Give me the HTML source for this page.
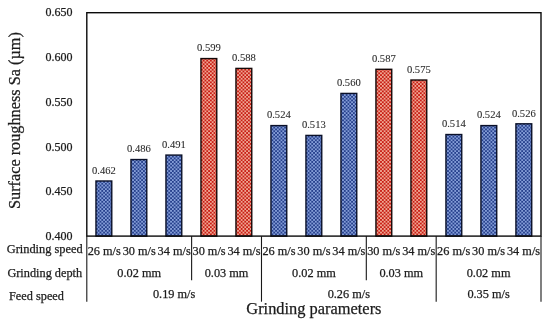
<!DOCTYPE html>
<html><head><meta charset="utf-8"><title>Grinding parameters chart</title>
<style>
html,body{margin:0;padding:0;background:#fff;overflow:hidden;}
svg{display:block;font-family:"Liberation Serif","Times New Roman",serif;fill:#1c1c1c;}
text{stroke:#1c1c1c;stroke-width:0.25px;}
.t{font-size:12px;text-anchor:end;}
.v{font-size:10.6px;text-anchor:middle;stroke-width:0.08px;fill:#2a2a2a;stroke:#2a2a2a;}
.c{font-size:12.3px;text-anchor:middle;}
.r{font-size:12.3px;text-anchor:start;}
.x{font-size:16.4px;text-anchor:middle;}
.y{font-size:16.25px;text-anchor:middle;}
.ln{stroke:#181818;stroke-width:1.1;fill:none;}
</style></head><body>
<svg width="550" height="321" viewBox="0 0 550 321">
<defs>
<pattern id="pb" width="3.62" height="3.62" patternUnits="userSpaceOnUse">
<rect width="3.62" height="3.62" fill="#26408c"/>
<circle cx="0.905" cy="0.905" r="0.88" fill="#a8c0f4"/>
<circle cx="2.715" cy="2.715" r="0.88" fill="#a8c0f4"/>
</pattern>
<pattern id="pr" width="3.62" height="3.62" patternUnits="userSpaceOnUse">
<rect width="3.62" height="3.62" fill="#c81e14"/>
<circle cx="0.905" cy="0.905" r="0.88" fill="#fed8c2"/>
<circle cx="2.715" cy="2.715" r="0.88" fill="#fed8c2"/>
</pattern>
</defs>
<rect width="550" height="321" fill="#fff"/>
<rect x="95.97" y="181.00" width="15.80" height="55.10" fill="url(#pb)" stroke="#0a1028" stroke-width="1.4"/>
<text class="v" x="103.87" y="173.70">0.462</text>
<rect x="130.97" y="159.55" width="15.80" height="76.55" fill="url(#pb)" stroke="#0a1028" stroke-width="1.4"/>
<text class="v" x="138.87" y="152.25">0.486</text>
<rect x="165.96" y="155.08" width="15.80" height="81.02" fill="url(#pb)" stroke="#0a1028" stroke-width="1.4"/>
<text class="v" x="173.86" y="147.78">0.491</text>
<rect x="200.96" y="58.57" width="15.80" height="177.53" fill="url(#pr)" stroke="#140808" stroke-width="1.4"/>
<text class="v" x="208.86" y="51.27">0.599</text>
<rect x="235.96" y="68.40" width="15.80" height="167.70" fill="url(#pr)" stroke="#140808" stroke-width="1.4"/>
<text class="v" x="243.86" y="61.10">0.588</text>
<rect x="270.95" y="125.59" width="15.80" height="110.51" fill="url(#pb)" stroke="#0a1028" stroke-width="1.4"/>
<text class="v" x="278.85" y="118.29">0.524</text>
<rect x="305.95" y="135.42" width="15.80" height="100.68" fill="url(#pb)" stroke="#0a1028" stroke-width="1.4"/>
<text class="v" x="313.85" y="128.12">0.513</text>
<rect x="340.95" y="93.42" width="15.80" height="142.68" fill="url(#pb)" stroke="#0a1028" stroke-width="1.4"/>
<text class="v" x="348.85" y="86.12">0.560</text>
<rect x="375.94" y="69.30" width="15.80" height="166.80" fill="url(#pr)" stroke="#140808" stroke-width="1.4"/>
<text class="v" x="383.84" y="62.00">0.587</text>
<rect x="410.94" y="80.02" width="15.80" height="156.08" fill="url(#pr)" stroke="#140808" stroke-width="1.4"/>
<text class="v" x="418.84" y="72.72">0.575</text>
<rect x="445.94" y="134.53" width="15.80" height="101.57" fill="url(#pb)" stroke="#0a1028" stroke-width="1.4"/>
<text class="v" x="453.84" y="127.23">0.514</text>
<rect x="480.93" y="125.59" width="15.80" height="110.51" fill="url(#pb)" stroke="#0a1028" stroke-width="1.4"/>
<text class="v" x="488.83" y="118.29">0.524</text>
<rect x="515.93" y="123.81" width="15.80" height="112.29" fill="url(#pb)" stroke="#0a1028" stroke-width="1.4"/>
<text class="v" x="523.83" y="116.51">0.526</text>
<rect x="86.8" y="12.7" width="454.20" height="223.40" fill="none" stroke="#0a0a0a" stroke-width="1.4"/>
<text class="t" x="72.6" y="240.00">0.400</text>
<text class="t" x="72.6" y="195.26">0.450</text>
<text class="t" x="72.6" y="150.52">0.500</text>
<text class="t" x="72.6" y="105.78">0.550</text>
<text class="t" x="72.6" y="61.04">0.600</text>
<text class="t" x="72.6" y="16.30">0.650</text>
<line class="ln" x1="86.80" y1="236.1" x2="86.80" y2="301.7"/>
<line class="ln" x1="191.62" y1="236.1" x2="191.62" y2="280.2"/>
<line class="ln" x1="261.49" y1="236.1" x2="261.49" y2="301.7"/>
<line class="ln" x1="366.31" y1="236.1" x2="366.31" y2="280.2"/>
<line class="ln" x1="436.18" y1="236.1" x2="436.18" y2="301.7"/>
<line class="ln" x1="541.00" y1="236.1" x2="541.00" y2="301.7"/>
<text class="c" x="104.27" y="255.1">26 m/s</text>
<text class="c" x="139.21" y="255.1">30 m/s</text>
<text class="c" x="174.15" y="255.1">34 m/s</text>
<text class="c" x="209.08" y="255.1">30 m/s</text>
<text class="c" x="244.02" y="255.1">34 m/s</text>
<text class="c" x="278.96" y="255.1">26 m/s</text>
<text class="c" x="313.90" y="255.1">30 m/s</text>
<text class="c" x="348.84" y="255.1">34 m/s</text>
<text class="c" x="383.78" y="255.1">30 m/s</text>
<text class="c" x="418.72" y="255.1">34 m/s</text>
<text class="c" x="453.65" y="255.1">26 m/s</text>
<text class="c" x="488.59" y="255.1">30 m/s</text>
<text class="c" x="523.53" y="255.1">34 m/s</text>
<text class="c" x="139.21" y="276.6">0.02 mm</text>
<text class="c" x="226.55" y="276.6">0.03 mm</text>
<text class="c" x="313.90" y="276.6">0.02 mm</text>
<text class="c" x="401.25" y="276.6">0.03 mm</text>
<text class="c" x="488.59" y="276.6">0.02 mm</text>
<text class="c" x="174.15" y="298.2">0.19 m/s</text>
<text class="c" x="348.84" y="298.2">0.26 m/s</text>
<text class="c" x="488.59" y="298.2">0.35 m/s</text>
<text class="r" style="font-size:12.4px" x="6.7" y="252.9">Grinding speed</text>
<text class="r" x="7.4" y="276.5">Grinding depth</text>
<text class="r" x="9.0" y="299.5">Feed speed</text>
<text class="x" x="313.90" y="313.7">Grinding parameters</text>
<text class="y" transform="translate(20.2,120.6) rotate(-90)">Surface roughness Sa (µm)</text>
</svg>
</body></html>
